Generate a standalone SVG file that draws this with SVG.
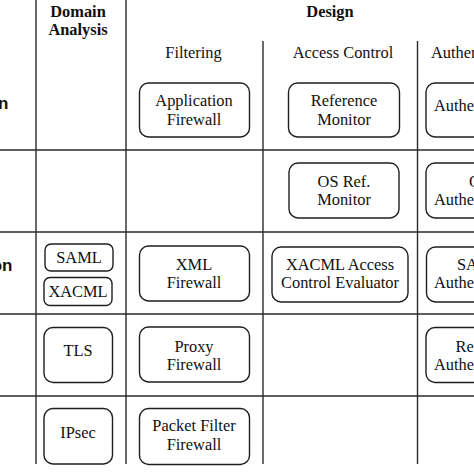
<svg xmlns="http://www.w3.org/2000/svg" width="474" height="474" viewBox="0 0 474 474">
<style>
.grid{stroke:#2a2a2a;stroke-width:1.4;fill:none}
.box{fill:#fff;stroke:#1e1e1e;stroke-width:1.4}
.t{font-family:"Liberation Serif","Times New Roman",serif;font-size:16.4px;fill:#111;text-anchor:middle}
.s{text-anchor:start}
.b{font-weight:bold}
.lab{font-family:"Liberation Sans",Arial,sans-serif;font-size:17px;font-weight:bold;fill:#111;text-anchor:end}
</style>
<rect width="474" height="474" fill="#fff"/>
<g id="connectors">
<line class="grid" x1="36" y1="0" x2="36" y2="464"/>
<line class="grid" x1="126" y1="0" x2="126" y2="464"/>
<line class="grid" x1="263" y1="41" x2="263" y2="464"/>
<line class="grid" x1="417.5" y1="41" x2="417.5" y2="464"/>
<line class="grid" x1="0" y1="150" x2="474" y2="150"/>
<line class="grid" x1="0" y1="232" x2="474" y2="232"/>
<line class="grid" x1="0" y1="314" x2="474" y2="314"/>
<line class="grid" x1="0" y1="396" x2="474" y2="396"/>
</g>
<g id="headers">
<text class="t b" x="78" y="16.5">Domain</text>
<text class="t b" x="78" y="35">Analysis</text>
<text class="t b" x="330" y="16.5">Design</text>
<text class="t" x="193.5" y="57.5">Filtering</text>
<text class="t" x="343" y="57.5">Access Control</text>
<text class="t s" x="431" y="57.5">Authen</text>
<text class="lab" x="8.5" y="108.5">n</text>
<text class="lab" x="12.5" y="270.5">on</text>
</g>
<g id="app-firewall">
<rect class="box" x="139.5" y="83" width="110" height="54" rx="9"/>
<text class="t" x="194" y="106">Application</text>
<text class="t" x="194" y="124.5">Firewall</text>
</g>
<g id="ref-monitor">
<rect class="box" x="288.5" y="83" width="111" height="54" rx="9"/>
<text class="t" x="344" y="106">Reference</text>
<text class="t" x="344" y="124.5">Monitor</text>
</g>
<g id="auth-1">
<rect class="box" x="426" y="83" width="110" height="54" rx="9"/>
<text class="t s" x="434" y="111">Authe</text>
</g>
<g id="os-ref-monitor">
<rect class="box" x="289" y="163" width="110" height="55" rx="9"/>
<text class="t" x="344" y="186.5">OS Ref.</text>
<text class="t" x="344" y="205">Monitor</text>
</g>
<g id="auth-2">
<rect class="box" x="426" y="163" width="110" height="55" rx="9"/>
<text class="t s" x="469" y="186.5">O</text>
<text class="t s" x="434" y="205">Authe</text>
</g>
<g id="saml">
<rect class="box" x="45" y="244" width="68" height="27" rx="6"/>
<text class="t" x="79" y="262.5">SAML</text>
</g>
<g id="xacml">
<rect class="box" x="44" y="277.5" width="68" height="28" rx="6"/>
<text class="t" x="78" y="297">XACML</text>
</g>
<g id="xml-firewall">
<rect class="box" x="139.5" y="246" width="110" height="55" rx="9"/>
<text class="t" x="194" y="269.5">XML</text>
<text class="t" x="194" y="288">Firewall</text>
</g>
<g id="xacml-evaluator">
<rect class="box" x="272" y="247" width="136" height="55" rx="9"/>
<text class="t" x="340" y="269.5">XACML Access</text>
<text class="t" x="340" y="288">Control Evaluator</text>
</g>
<g id="auth-3">
<rect class="box" x="426.5" y="247" width="110" height="55" rx="9"/>
<text class="t s" x="457" y="269.5">SA</text>
<text class="t s" x="434" y="288">Authe</text>
</g>
<g id="tls">
<rect class="box" x="44" y="327.5" width="68.5" height="55" rx="9"/>
<text class="t" x="78" y="356">TLS</text>
</g>
<g id="proxy-firewall">
<rect class="box" x="139.5" y="327" width="110" height="55" rx="9"/>
<text class="t" x="194" y="351.5">Proxy</text>
<text class="t" x="194" y="370">Firewall</text>
</g>
<g id="auth-4">
<rect class="box" x="426" y="327.5" width="110" height="55" rx="9"/>
<text class="t s" x="455.5" y="351.5">Re</text>
<text class="t s" x="434" y="370">Authe</text>
</g>
<g id="ipsec">
<rect class="box" x="44" y="408.5" width="68.5" height="55.5" rx="9"/>
<text class="t" x="78" y="438">IPsec</text>
</g>
<g id="packet-filter">
<rect class="box" x="139.5" y="408.5" width="110" height="56" rx="9"/>
<text class="t" x="194" y="431">Packet Filter</text>
<text class="t" x="194" y="449.5">Firewall</text>
</g>
</svg>
